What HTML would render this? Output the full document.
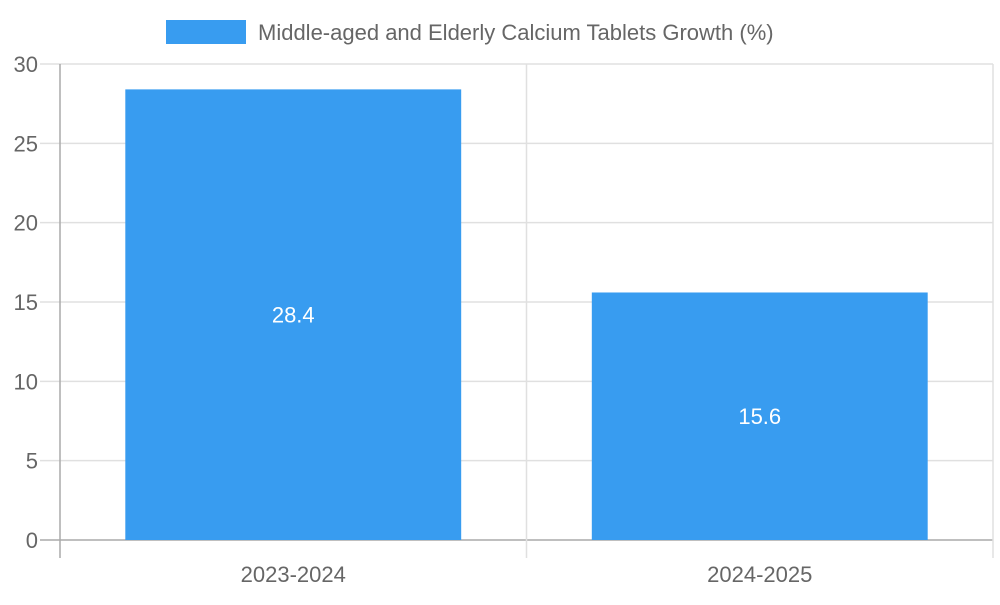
<!DOCTYPE html>
<html><head><meta charset="utf-8"><style>
body{margin:0;background:#fff;}
svg text{font-family:"Liberation Sans",sans-serif;}
</style></head><body>
<svg width="1000" height="600">
<g id="legend">
<rect x="166" y="20" width="80" height="24" fill="#389CF0"/>
<text x="258" y="40" font-size="22" fill="#666">Middle-aged and Elderly Calcium Tablets Growth (%)</text>
</g>
<g id="grid"></g><g id="bars"></g><g id="labels"></g>
</svg>
<script>
const categories=["2023-2024","2024-2025"];
const values=[28.4,15.6];
const yTicks=[0,5,10,15,20,25,30];
const L=60,R=993,T=64,B=540,yMax=30;
const ns="http://www.w3.org/2000/svg";
const y=v=>B-(v/yMax)*(B-T);
const cw=(R-L)/categories.length;
const x=i=>L+cw*i;
function mk(tag,attrs,parent,text){const e=document.createElementNS(ns,tag);for(const k in attrs)e.setAttribute(k,attrs[k]);if(text!==undefined)e.textContent=text;document.getElementById(parent).appendChild(e);return e;}
yTicks.forEach(t=>{
 const g=mk("line",{x1:40,x2:R,y1:y(t),y2:y(t),stroke:t===0?"#aaa":"#e0e0e0","stroke-width":1.5},"grid");
 
 
 const tx=mk("text",{x:38,y:y(t)+8,"text-anchor":"end","font-size":22,fill:"#666"},"grid",t);
 
 
});
for(let i=0;i<=categories.length;i++){
 const l=mk("line",{x1:x(i),x2:x(i),y1:T,y2:558,stroke:i===0?"#aaa":"#e0e0e0","stroke-width":1.5},"grid");
 
 
}
categories.forEach((c,i)=>{
 const bw=cw*0.72,bx=x(i)+(cw-bw)/2;
 const r=mk("rect",{x:bx,y:y(values[i]),width:bw,height:B-y(values[i]),fill:"#389CF0"},"bars");
 
 
 const v=mk("text",{x:bx+bw/2,y:(y(values[i])+B)/2+8,"text-anchor":"middle","font-size":22,fill:"#fff"},"labels",values[i]);
 
 
 const cl=mk("text",{x:x(i)+cw/2,y:582,"text-anchor":"middle","font-size":22,fill:"#666"},"labels",c);
 
 
});
</script>
</body></html>
